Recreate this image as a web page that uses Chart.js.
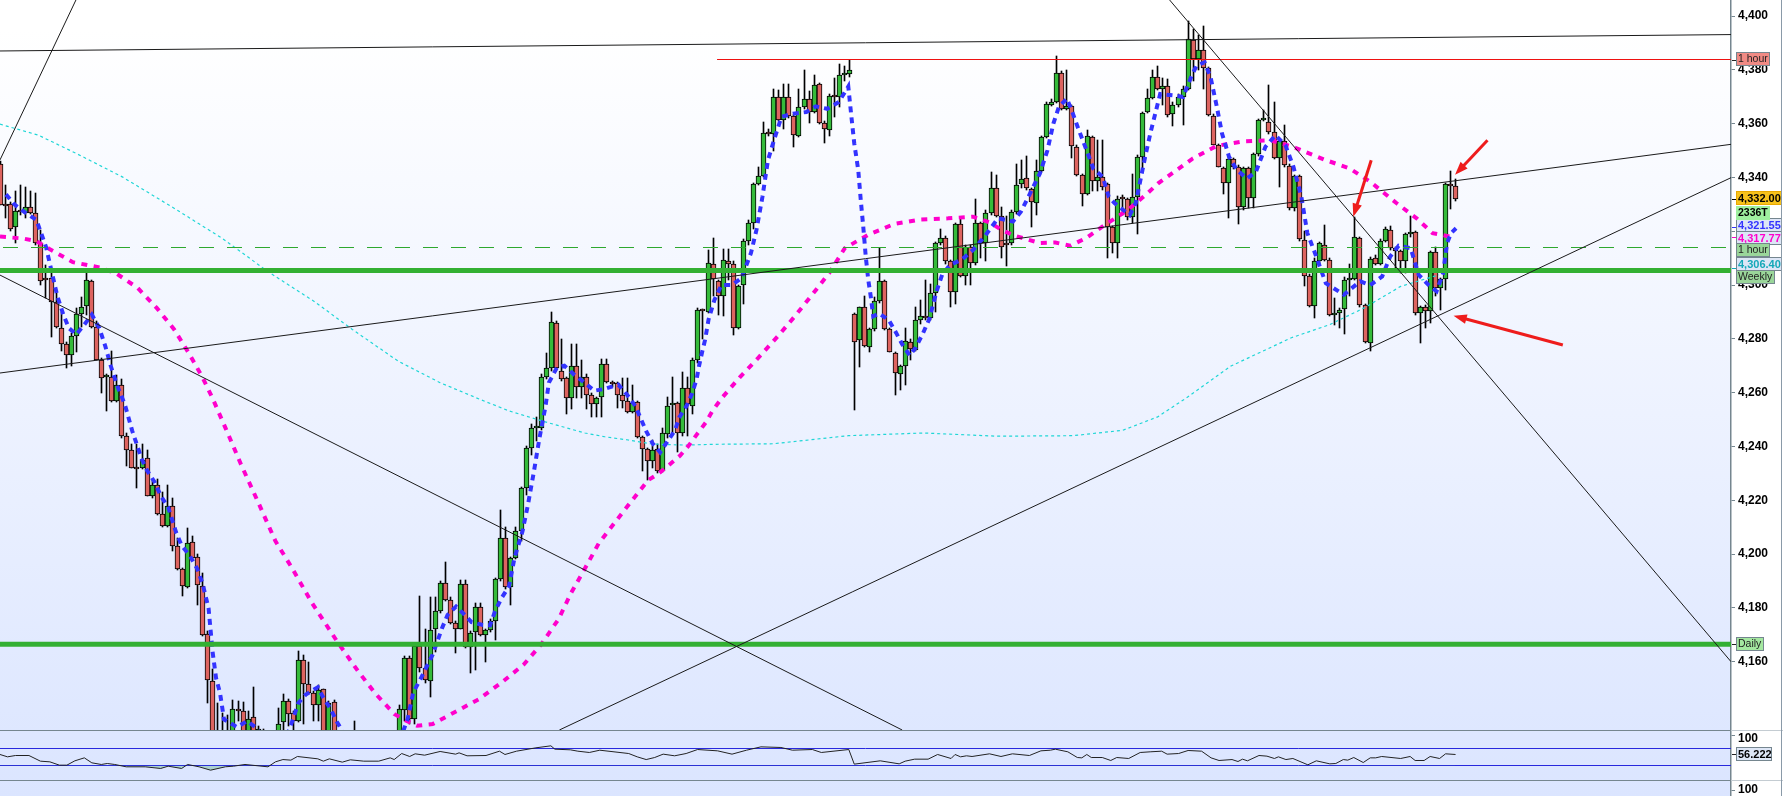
<!DOCTYPE html>
<html>
<head>
<meta charset="utf-8">
<title>ES 1 hour</title>
<style>
  html, body { margin: 0; padding: 0; background: #fff; overflow: hidden; }
  #page { position: relative; width: 1783px; height: 796px; }
  #plotBg { position: absolute; left: 0; top: 0; width: 1731px; height: 796px;
            background: linear-gradient(#ffffff 0px, #ffffff 30px, #dbe5ff 796px); }
  canvas { position: absolute; left: 0; }
  .sep { position: absolute; height: 1px; }
  #rightEdge { position: absolute; left: 1781px; top: 0; width: 1px; height: 796px; background: #8a9aa8; }
</style>
</head>
<body>
<div id="page">
  <div id="plotBg"></div>
  <canvas id="priceChart" width="1783" height="730" style="top:0"></canvas>
  <canvas id="rsiChart" width="1783" height="50" style="top:730px"></canvas>
  <canvas id="lowerChart" width="1783" height="16" style="top:780px"></canvas>
  <div class="sep" style="left:0;top:730px;width:1731px;background:#75868f"></div>
  <div class="sep" style="left:0;top:780px;width:1731px;background:#75868f"></div>
  <div class="sep" style="left:1731px;top:730px;width:52px;background:#c4ccd2"></div>
  <div class="sep" style="left:1731px;top:780px;width:52px;background:#c4ccd2"></div>
  <div id="rightEdge"></div>
</div>

<script src="https://cdn.jsdelivr.net/npm/chart.js"></script>
<script>
  // candles
  const opens = [
    4345,4329.6,4330,4321.5,4327.7,4326.7,4329,4326.7,4315.5,4302,
    4302.6,4293.7,4284,4278,4274,4281,4289.3,4292.3,4301.4,4284.3,
    4272.3,4265.9,4266,4257,4263,4244,4238.5,4232,4232,4235.6,
    4221.5,4225.5,4215,4210.3,4218,4203,4194.5,4187.8,4204.5,4198.8,
    4188,4170.4,4152.7,4130,4125,4128,4132,4142.5,4141.5,4130,
    4139.3,4128,4133,4130,4127,4130,4137.5,4145.5,4141,4138,
    4160.5,4151.7,4148.5,4144,4149.8,4130,4145,4128,4122,4118,
    4121,4125,4120,4116,4119,4114,4118,4122,4119,4124,
    4142,4161.2,4138.7,4166,4157.5,4152.7,4172,4179,4189.2,4183,
    4174.4,4172.2,4188.8,4165.3,4171,4180.3,4170,4171.6,4175,4190.6,
    4205.8,4187.6,4198.7,4208.4,4224.7,4239.5,4247,4247,4266,4269,
    4286,4268,4265.5,4258,4270,4262,4265.9,4259,4255.6,4258.3,
    4270.6,4263.9,4263.5,4259.1,4257,4252.9,4256.4,4243.4,4239,4234.7,
    4239,4231,4244.5,4255.4,4256,4245,4261.6,4255.2,4272,4290.6,
    4290,4308,4301.4,4296,4309,4308,4284,4300,4316.2,4323.2,
    4337.4,4340.6,4356.5,4356,4370,4361.5,4370,4363,4355.3,4366,
    4369.3,4364.3,4374.8,4360.4,4357.8,4370.2,4370,4378,4378.3,4289.3,
    4279.4,4292,4277,4283.5,4294,4301.4,4283.7,4274.8,4267,4269.9,
    4279,4276,4287,4288.6,4287.8,4297,4315.6,4317.3,4308.8,4297.3,
    4322.6,4303.5,4314.3,4308.1,4323,4315.6,4326.7,4336,4325.7,4315,
    4315.6,4327,4337.4,4339.9,4335.6,4330.4,4342.5,4355,4367,4368,
    4378.9,4365.5,4366.4,4351.4,4340.9,4334,4355,4338.6,4340,4337.5,
    4321.5,4315.6,4332,4331.9,4325.4,4332.8,4347.7,4364.3,4369.6,4377.3,
    4373,4373.8,4363.5,4366.8,4369.9,4373,4391,4384,4387.4,4380.7,
    4363,4352.2,4343.6,4337.8,4346.8,4344,4329,4343.6,4332.5,4348.6,
    4361.2,4360.6,4356.7,4347.4,4353.6,4344.3,4328.5,4340.6,4316.8,4303.4,
    4292.3,4309.1,4314.7,4309.4,4289,4289.6,4291,4302,4302.2,4317.4,
    4292.5,4278.5,4310,4308,4316.5,4320.5,4313.7,4312.8,4309,4319,
    4319.6,4289.6,4292,4290.2,4312.2,4298.9,4302.2,4337.5,4336.8
  ];
  const closes = [
    4329.6,4329.4,4321,4327.7,4327,4329,4326.7,4315.5,4301.4,4301.7,
    4293.7,4284.3,4278,4274,4281,4289.3,4292,4302,4284.3,4272.3,
    4265.6,4266.2,4257,4263,4244,4238.5,4232,4231.7,4235,4221.5,
    4225.5,4214.8,4210.3,4218,4203,4194.5,4188,4204,4198.6,4188.6,
    4170,4153.3,4130,4125,4128,4132,4142.5,4141.5,4130,4138.8,
    4128,4135,4130,4127,4130,4137,4145.5,4140.5,4138,4160.5,
    4151.7,4148.5,4144,4149.5,4130,4144.8,4128,4122,4118,4121,
    4125,4120,4116,4119,4114,4118,4122,4119,4124,4142.5,
    4161.2,4138.7,4166,4157.5,4153,4171.6,4179,4189.2,4183,4174.4,
    4172.2,4188.8,4165.3,4170.8,4180.3,4170,4171.6,4175,4190.6,4206.1,
    4187.6,4198.7,4208.7,4224.7,4239.5,4247,4247.2,4266,4269,4286.3,
    4269,4265,4258,4270,4262,4266,4259,4255.6,4258,4270.6,
    4264,4263.2,4259.1,4257,4252.9,4256,4243.4,4239,4234.7,4238.8,
    4231,4245,4255.1,4256,4245,4261.6,4255.8,4272,4290.6,4290.4,
    4308.1,4302.2,4296,4309.2,4308,4284,4299.5,4316.2,4323.2,4337.4,
    4340.6,4356.5,4356,4370,4361.5,4370,4363,4355.7,4366,4369.3,
    4364.3,4374.4,4360.4,4358,4370.2,4370,4378,4378.2,4380,4279,
    4291.7,4277.3,4283.5,4294,4301.4,4283.7,4275.2,4267.4,4269.9,4279.1,
    4276.3,4286.9,4288.4,4287.8,4297,4315.6,4317.3,4308.8,4297.3,4322.6,
    4303.5,4314.3,4308.1,4323,4315.6,4326.7,4336.2,4325.7,4314.3,4314.8,
    4327,4337.2,4339.3,4336,4330.7,4342.5,4355,4367.4,4368,4378.9,
    4365.5,4366.4,4351.6,4341,4334,4355.3,4338.6,4340,4336.3,4321.7,
    4315.6,4332,4331.9,4325.4,4332.8,4347.7,4364,4369.6,4377.3,4373,
    4373.8,4363.2,4367,4369.9,4373,4391.5,4384,4387.4,4380.7,4363.3,
    4352.2,4344,4337.8,4346.8,4344,4329,4343.6,4332.5,4348.6,4361.5,
    4361.6,4356.7,4347.4,4353.6,4344.6,4328.5,4340.6,4317,4303.4,4292.3,
    4309.1,4315.6,4309.4,4289,4289.3,4290.9,4302,4302.2,4317.8,4292.5,
    4278.9,4309.6,4307.9,4316.5,4320.7,4313.7,4312.8,4309,4318.9,4319.3,
    4289.6,4291.9,4290.5,4312.2,4298.9,4302.2,4337.5,4336.8,4332
  ];
  const highs = [
    4346,4337,4331,4335,4337,4336.5,4335,4334.3,4320.5,4307.5,
    4305,4297.7,4290,4279,4282,4291.5,4295.4,4305,4302,4286.5,
    4272.8,4267,4275.5,4266.5,4265,4245,4241,4241,4241,4238.5,
    4228,4228,4223,4225.5,4220.8,4206,4195,4209.6,4206.6,4200,
    4193,4171.4,4157.3,4144.7,4141,4140,4145.8,4145.5,4145,4141.5,
    4150.5,4136,4135,4133,4133,4142.7,4147.8,4146,4141.5,4164,
    4162.5,4160,4149,4151.5,4150,4145.5,4145.6,4130,4125,4125,
    4138,4128,4123,4122,4121,4120,4124,4125,4127,4144,
    4162,4162,4167,4184.3,4172,4184,4184,4190,4196.9,4184,
    4175,4190.3,4190.3,4171.5,4181.8,4181.8,4172,4176,4191,4216.3,
    4210,4199,4210,4225,4240,4248.5,4251,4267,4274.7,4290,
    4286.5,4280,4266,4278,4278,4272,4267,4260,4258.5,4272.5,
    4272.5,4264.5,4264,4265.4,4265.4,4263,4257,4244,4239.5,4242.4,
    4241,4247,4258.5,4265.7,4256.5,4267.5,4265.7,4273,4291.5,4291,
    4313,4317.4,4302,4313.5,4313.5,4309,4300,4317,4324,4338,
    4344,4360.6,4358,4373,4372.5,4374.6,4374.6,4363.5,4373,4380,
    4372,4378,4375,4361,4371,4377,4382,4381.6,4383.5,4289.5,
    4292,4296,4284,4295.5,4313.7,4302,4284,4275,4270.4,4284,
    4280,4292,4294.6,4302,4300.5,4316,4320.7,4318.2,4309.3,4323,
    4324.7,4315,4315,4331.9,4323.5,4328,4341.9,4341,4329,4325.5,
    4328,4345,4346.5,4348,4336,4346.4,4355.5,4368,4369,4385,
    4379.5,4380,4367,4352,4341.4,4357.5,4355.5,4354,4354,4338,
    4322,4333,4333.5,4332.5,4341.2,4348.3,4364.5,4373,4380,4381.6,
    4377,4376.7,4368,4371,4374,4398,4395,4393,4396.4,4381,
    4363.5,4352.5,4344,4347.5,4347.2,4344.5,4344,4344,4349,4361.8,
    4365,4374.2,4368,4354,4359.5,4345,4341,4341,4320,4304,
    4310,4316,4322.4,4310,4295,4291.3,4303,4308,4325.4,4318,
    4293,4310.3,4311,4317,4321.5,4322,4314,4313.2,4319.3,4325.7,
    4320,4292.3,4292.5,4312.6,4314,4302.6,4338,4342.3,4339.4
  ];
  const lows = [
    4329.6,4325,4320,4315.5,4326,4325,4326.5,4315,4300,4295,
    4280.6,4284,4275.4,4269.3,4270,4275,4284.3,4288.8,4284,4272,
    4260,4253,4256.5,4256.5,4243,4232.6,4232,4224.4,4231.5,4221.5,
    4221,4214.5,4210,4210,4201,4194,4184.3,4187.5,4198.4,4181,
    4169.5,4144.7,4128,4120,4120,4126,4130,4138,4126,4128,
    4125,4125,4126,4122,4124,4128,4134,4136,4134.5,4137.5,
    4137,4148,4138,4138,4128,4128,4125,4118,4115,4114,
    4118,4116,4112,4112,4110,4110,4115,4116,4116,4122,
    4138,4137,4137,4156,4152,4147,4163.5,4178,4182.5,4174,
    4163.3,4172,4165,4155.8,4157,4169.5,4160,4171,4168,4190,
    4187,4181,4198,4205,4222,4237,4242,4246,4265,4268,
    4268.5,4264.5,4252,4254,4258,4258,4254,4251,4251,4251,
    4263.5,4262,4254.3,4254.3,4252.5,4252.5,4243,4231,4227.5,4232,
    4230,4230.5,4243,4244.5,4238,4244,4244,4252,4271,4280,
    4289.5,4296,4289,4288.4,4302,4281.6,4283.5,4293,4315,4321,
    4337,4340,4355.5,4350,4361,4358,4362,4351.4,4355,4365.5,
    4360.3,4364,4360,4352.8,4355.3,4362.6,4366,4376,4377.5,4253.5,
    4269.5,4277,4275,4283,4293.5,4283.2,4275,4259,4261,4263,
    4272,4275.5,4285.5,4287,4287,4290,4315,4308,4292,4293,
    4303,4300,4300,4307.6,4310,4309,4326,4325.2,4310,4307,
    4315,4326.5,4336,4335.5,4321.4,4326,4342,4354.5,4366.5,4367.5,
    4365,4365,4347.4,4340.5,4329.5,4333.5,4335,4335,4335.5,4310,
    4312,4310,4326,4324,4323,4319,4343,4364,4369,4372.5,
    4367,4362.3,4359,4366,4359.6,4372.5,4376,4380,4373,4363,
    4352,4344,4334,4324.8,4343,4322.6,4328,4328.5,4328.5,4348,
    4361,4356,4346.8,4336.5,4344,4328,4327.5,4316.5,4299.5,4292,
    4287.8,4308,4309,4288.5,4285,4284,4281.9,4296,4301.7,4292,
    4278.4,4275.4,4307.4,4307.5,4316,4313.2,4306,4304.5,4304.5,4318,
    4289,4278.5,4284,4286,4296,4290.9,4298,4328.3,4331.2
  ];

  // moving averages: position on the time axis, then price
  const fastX = [1.2,3,5,7.3,9.2,10.5,11.5,12.7,13.8,15.3,16.9,18.4,19.9,21.1,22.2,23.4,25,26.5,28.4,29.5,31,32.2,33.7,35.3,36.4,38,39.5,40.6,41.8,42.6,43.3,44.1,44.9,47.5,49.5,51.4,54,57,58.7,59.8,61.3,63.7,64.8,66.3,67.5,69,72,76,79,81.7,82.8,84.4,86.7,88.6,89.7,91.4,92.8,94.5,96.6,98.2,99.2,100.5,102,103.1,104.7,105.8,107,108.1,109.3,110,111.6,113.1,115,117.2,119.1,121.2,123.9,125.6,127.3,128.4,129.5,130.8,132.3,133.7,135.3,136.1,137.6,138.7,139.6,140.1,140.7,141.3,142,143.2,144.6,146.7,148.6,150.5,151.6,152.8,153.9,155.1,156.6,158.9,161.6,163.5,165.8,168.1,170,170.6,171.2,172,172.5,173,173.5,174,174.5,175,176.2,178.1,179.6,180.8,182.3,183.5,185,186.2,186.9,187.7,188.8,190.4,192.7,195,197.3,200,203,204.6,206.1,208.4,209.9,211.1,212.2,213.8,214.9,216.1,218,219.1,221,222.2,223.4,226.4,227.6,229.5,230.6,232.5,235.2,237.1,238.7,239.8,241.4,242.6,243.8,244.9,246.3,247.9,249.9,251.7,253.6,255.6,257.6,259.2,260.8,262,263.3,265.7,269.3,272.6,274.6,277,278.6,280.3,282.7,284.3,286.3,287.9,289.2,290,290.8,291.8];
  const fastY = [4333.7,4329.8,4327,4324.2,4314.3,4303.8,4295.8,4289,4284,4281.6,4285.3,4289,4284,4277.3,4269.9,4263,4255.7,4245.8,4235.3,4231,4226.7,4221.7,4217.4,4208,4203.2,4199.5,4194.6,4189,4179.8,4163.7,4153.9,4148.3,4138.5,4135.7,4137.9,4135.4,4128,4130,4138.5,4144.7,4147.8,4150.5,4146.6,4142.3,4137.7,4133,4122,4118,4125,4138.7,4148.5,4154,4162.6,4172.5,4177.4,4180.5,4178,4174.7,4173.7,4173.5,4178.7,4183.6,4188,4198.5,4208.4,4218.3,4230.7,4243,4254.7,4263.7,4269.3,4270,4266.8,4263.6,4260.7,4261.4,4263,4259.4,4255.1,4250.4,4245.7,4241.1,4237.8,4241.7,4246.1,4250.7,4255.1,4259.7,4265,4270,4275,4279.6,4287.2,4294.6,4300,4300,4302.6,4311.9,4320.5,4332.8,4346.4,4353.8,4362.5,4363.7,4364.3,4366.4,4365.5,4368,4373.8,4363,4352.6,4342.7,4331.6,4321.7,4310.6,4302,4295.8,4288.4,4289.4,4287,4282.2,4278,4273.8,4276.7,4282.2,4287.2,4292,4297.7,4303.8,4307.5,4309.4,4313,4318,4324.8,4323.6,4327.3,4332.8,4341.5,4350,4360,4366.2,4369.3,4364.3,4358.1,4348.9,4343.3,4340.2,4332.8,4330.4,4326,4330.4,4347.7,4356.9,4371,4370.5,4369.9,4377.3,4381.6,4382.8,4377.3,4366.8,4356.3,4347.7,4342.7,4339.6,4342.1,4351.4,4355.7,4352,4344,4332.8,4319.3,4313,4300.7,4296.4,4301.4,4300,4303.2,4310.6,4314.6,4313.7,4303.8,4300,4297.7,4304.4,4315.6,4319.3,4321.1];

  const midX = [0,4.6,7.3,10,14.6,20,23.4,27.6,31.4,34.9,38,40.6,42,42.6,45.2,48.3,51.8,55.2,58.3,62.5,67.5,71.7,75.2,79,81.3,83.6,86.7,91.3,95.9,100.5,105,108.5,112,114.3,117.3,120,125,129.9,131.9,134,136.3,138.1,139.7,141.4,142.8,144.7,148.2,152,155.9,159.3,162.8,166.2,169.3,173.9,179.2,184.6,190,195,198.4,200.7,203.4,208.4,211.5,214.5,217.6,221.4,226,229.9,232.1,239,243.8,249.1,254.8,259.6,265.3,270.5,274.6,279.9,283.9,287.1,291.2];
  const midY = [4318,4317.3,4316.3,4313.3,4308.5,4306.5,4304.2,4298.9,4291.5,4283.5,4274.2,4265.6,4260.2,4257.9,4246.8,4233.3,4219,4204.8,4195.5,4181.9,4167.7,4156.6,4148.2,4140.6,4138.1,4136.2,4136.8,4141.4,4146,4152.2,4159,4166.5,4176,4185,4194.9,4204,4216,4227.5,4229.8,4233,4236.6,4240.5,4244.6,4248.8,4253.3,4258.1,4265.6,4273,4281,4288.4,4296.5,4304.5,4313.7,4318.6,4322.7,4324.4,4324.8,4325.4,4323.2,4320.5,4318.3,4315.6,4315.8,4314.6,4317.4,4322.3,4327.9,4334,4337.8,4347,4351.7,4353.4,4353.8,4351,4346.7,4343.3,4338.4,4330.4,4324.8,4319.3,4317.8];

  const slowX = [0,7.7,15.3,24.5,34.5,44.5,53.7,62.9,70.6,79.8,88.2,96.2,102,109.7,117.2,121.2,125.9,130.7,137.3,143.3,155,170,185,200,215,225,232,237.8,246.7,258.8,266.5,273.4,280.7,288.4];
  const slowY = [4359.8,4355.7,4348.9,4340.2,4329,4317.4,4305,4294,4283.5,4271.7,4263.7,4257.5,4253.2,4248.9,4245,4243.6,4242.4,4240.9,4240.5,4240.8,4241,4244,4245,4243.8,4244,4246,4251,4258.1,4269.9,4280.4,4285.3,4291.5,4299.5,4303.8];

  // drawn trend lines and levels
  const trendStartX = [0,0,0,112.1,0,234.4];
  const trendStartY = [4346.5,4387,4267.3,4134.6,4303.7,4405.95];
  const trendEndX = [15.23,346.9,346.9,346.9,180.8,346.9];
  const trendEndY = [4406,4393.1,4352.3,4339.9,4134.6,4160];

  const weeklyLevel = 4305.4;
  const dailyLevel = 4166.5;
  const hourSupport = 4313.95;
  const hourResistance = 4383.83;

  // arrows: tail x, tail price, tip x, tip price
  const arrowTailX = [274.8,298.1,313.2];
  const arrowTailY = [4346.4,4353.8,4277.7];
  const arrowTipX = [271.2,291.6,291.3];
  const arrowTipY = [4325.4,4341,4288.6];

  // right hand price boxes
  const boxTexts = ['1 hour','4,321.55','4,317.77','4,332.00','2336T','1 hour','4,306.40','Weekly','Daily'];
  const boxPrices = [4384,4322.3,4317.5,4332.3,4326.7,4313,4307.8,4303,4166.5];
  const boxTicks = [4383.8,4321.55,4317.77,4332,null,null,4306.4,null,4166.5];
  const boxFills = ['#f08a84','#dde6f6','#dde6f6','#f7c21c','#9ff09f','#9ad69a','#dde6f6','#9ad69a','#a4e8a0'];
  const boxInks = ['#222','#3333ff','#ff00cc','#000','#000','#222','#14a8b8','#222','#222'];
  const boxEdges = ['#75868f','#75868f','#75868f','#e8a800','#9ff09f','#75868f','#75868f','#75868f','#75868f'];

  const rsiX = [0,1.5,3.1,5.8,8.1,10,11.9,13.4,15,16.9,18.4,20.3,21.5,23,25.3,29.1,32.2,33.7,36.4,37.6,39.9,42.2,45.2,46.8,49.1,53.7,55.2,56.7,58.3,59.6,63.7,64.8,66,68.6,70.2,72.9,75.9,78.2,79,80.5,82.1,83.2,85.1,88.2,91.3,92,93.6,97.4,100.1,101.2,103.5,107.4,110.4,111.2,114.3,115.8,118.1,120.2,126,127.7,129.5,131.2,132.9,135.2,137.5,139.8,143.8,146.7,149.6,152.5,156.5,158.8,162.8,164.6,170.1,171.2,176.4,180.2,181.4,183.3,186,187.9,190.6,191.4,192.5,193.7,194.8,198.3,200.6,202.9,206.3,208.6,210.5,211.5,214,215.9,216.8,217.8,218.7,220.9,222.6,223.8,226.2,228.5,230.5,232.8,233.9,236.2,238.1,240.8,242.7,244.3,246.9,248.1,249,250,252.3,253.9,255.4,256.2,257.7,259.1,262.1,263.8,266.5,267.7,269.2,270.1,271.3,273.2,274.6,275.7,276.9,280.7,282.6,283.6,285.4,286.6,288.5,289.7,291.7];
  const rsiY = [55.9,50.4,53.5,53.5,40.2,38.6,30.8,30.8,41,48,36.3,32.4,34.7,32.4,26.9,26.9,23,28.4,23,32.4,26.9,19,27,28.4,32.4,26.9,38.6,44,42.6,51.2,45.7,40.2,45.7,37.9,43.4,40.2,40.2,48,44,58.2,51.2,57.5,54.3,63,56.7,59.8,52.8,53.5,63.7,55.9,63.7,71.6,76.3,68.4,66.9,63.7,60.6,66,58.2,50.4,44,48.8,56.7,52.8,58.2,67.6,64.5,56.7,66,73.9,72.4,66,67.6,60.6,67.6,33.2,41,33.9,40.2,44.9,44.9,55.9,46.5,55.9,50.4,52.8,51.2,57.5,51.2,57.5,53.5,64.5,66,68.4,62.2,48.8,48,55.9,48.8,48.8,41.8,48.8,46.5,60.6,62.2,63.7,56.7,58.2,65.3,63.7,48,41.8,44,39.4,44.9,41,53.5,52,46.5,50.4,44,46.5,31.6,41,33.9,34.7,44,42.6,48.8,37,48,48,51.2,46.5,51.2,41.8,41.8,51.2,46.5,57.5,55.9];
  const rsiBandHigh = 70;
  const rsiBandLow = 30;
  const rsiLast = '56.222';

  const xMax = 346.9;        // one x unit is 4.99 px on the page
  const candleStep = 1.0128; // candles sit a little wider than one unit
  const upColor = '#35bb3a';
  const downColor = '#dd6460';
  const axisColor = '#75868f';
  const axisFont = { family: "'Liberation Sans', Arial, sans-serif", size: 12, weight: 'bold' };
  const boxFontFamily = "'Liberation Sans', Arial, sans-serif";

  const points = (xs, ys) => xs.map((x, i) => ({ x: x, y: ys[i] }));
  const hline = (y, from) => [{ x: from || 0, y: y }, { x: xMax, y: y }];

  function lineSet(data, color, width, dash, order) {
    return { type: 'line', data: data, borderColor: color, borderWidth: width, borderDash: dash || [],
             pointRadius: 0, tension: 0, fill: false, order: order };
  }

  // snap candles to whole pixels so bodies and wicks stay crisp
  const snapBars = {
    id: 'snapBars',
    beforeDatasetsDraw(chart) {
      chart.data.datasets.forEach((ds, n) => {
        if (ds.type !== 'bar') return;
        chart.getDatasetMeta(n).data.forEach(el => {
          el.x = Math.round(el.x) + 0.5;
          el.y = Math.round(el.y);
          el.base = Math.round(el.base);
        });
      });
    }
  };

  const arrows = {
    id: 'arrows',
    afterDatasetsDraw(chart) {
      const { ctx, scales } = chart;
      ctx.save();
      ctx.strokeStyle = ctx.fillStyle = '#ee1c1c';
      ctx.lineWidth = 3;
      arrowTailX.forEach((tx, i) => {
        const x0 = scales.x.getPixelForValue(tx), y0 = scales.y.getPixelForValue(arrowTailY[i]);
        const x1 = scales.x.getPixelForValue(arrowTipX[i]), y1 = scales.y.getPixelForValue(arrowTipY[i]);
        const a = Math.atan2(y1 - y0, x1 - x0);
        const bx = x1 - 11 * Math.cos(a), by = y1 - 11 * Math.sin(a);
        ctx.beginPath(); ctx.moveTo(x0, y0); ctx.lineTo(bx, by); ctx.stroke();
        ctx.beginPath(); ctx.moveTo(x1, y1);
        ctx.lineTo(x1 - 14 * Math.cos(a - 0.35), y1 - 14 * Math.sin(a - 0.35));
        ctx.lineTo(x1 - 14 * Math.cos(a + 0.35), y1 - 14 * Math.sin(a + 0.35));
        ctx.closePath(); ctx.fill();
      });
      ctx.restore();
    }
  };

  function drawBox(ctx, x, y, text, fill, ink, edge, font, wide) {
    ctx.font = font;
    const w = wide || Math.ceil(ctx.measureText(text).width) + 4;
    ctx.fillStyle = fill;
    ctx.fillRect(x, y - 7, w, 14);
    ctx.strokeStyle = edge;
    ctx.lineWidth = 1;
    ctx.strokeRect(x + 0.5, y - 6.5, w - 1, 13);
    ctx.fillStyle = ink;
    ctx.textBaseline = 'middle';
    ctx.textAlign = 'left';
    ctx.fillText(text, x + 2, y + 0.5);
  }

  const priceBoxes = {
    id: 'priceBoxes',
    afterDraw(chart) {
      const { ctx, scales } = chart;
      ctx.save();
      boxTexts.forEach((t, i) => {
        const y = Math.round(scales.y.getPixelForValue(boxPrices[i]));
        const numeric = /^4,/.test(t);
        if (boxTicks[i] !== null) {
          const tickY = Math.round(scales.y.getPixelForValue(boxTicks[i]));
          ctx.strokeStyle = boxInks[i];
          ctx.lineWidth = 1;
          ctx.beginPath(); ctx.moveTo(1732, tickY + 0.5); ctx.lineTo(1736, tickY + 0.5); ctx.stroke();
        }
        const font = numeric ? 'bold 11px ' : (t === '2336T' ? 'bold 10.5px ' : '10.5px ');
        drawBox(ctx, 1736, y, t, boxFills[i], boxInks[i], boxEdges[i], font + boxFontFamily, numeric ? 46 : 0);
      });
      ctx.restore();
    }
  };

  const rsiBox = {
    id: 'rsiBox',
    afterDraw(chart) {
      const y = Math.round(chart.scales.y.getPixelForValue(Number(rsiLast)));
      chart.ctx.save();
      chart.ctx.strokeStyle = '#222';
      chart.ctx.beginPath(); chart.ctx.moveTo(1732, y + 0.5); chart.ctx.lineTo(1736, y + 0.5); chart.ctx.stroke();
      drawBox(chart.ctx, 1736, y, rsiLast, '#dde6f6', '#000', axisColor, 'bold 11px ' + boxFontFamily, 36);
      chart.ctx.restore();
    }
  };

  function rightAxis(min, max, extra) {
    return Object.assign({
      position: 'right', min: min, max: max,
      afterFit(axis) { axis.width = 52; axis.paddingTop = 0; axis.paddingBottom = 0; },
      border: { display: true, color: axisColor, width: 1.5 },
      grid: { display: true, drawOnChartArea: false, drawTicks: true, tickLength: 4, tickColor: axisColor },
      ticks: { color: '#000', font: axisFont, padding: 3, autoSkip: false, includeBounds: false,
               callback: v => v.toLocaleString('en-US') }
    }, extra || {});
  }

  const xAxis = { type: 'linear', min: 0, max: xMax, display: false, offset: false };
  const baseOptions = {
    responsive: false, animation: false, devicePixelRatio: 1,
    layout: { padding: 0, autoPadding: false },
    plugins: { legend: { display: false }, tooltip: { enabled: false } },
    events: []
  };

  const wicks = highs.map((h, i) => ({ x: i * candleStep, y: [lows[i], h] }));
  const bodies = opens.map((o, i) => ({ x: i * candleStep, y: [o, closes[i]] }));
  const bodyColors = opens.map((o, i) => closes[i] >= o ? upColor : downColor);

  const priceDatasets = [
    { type: 'bar', data: wicks, backgroundColor: '#000', barThickness: 1, grouped: false, order: 20 },
    { type: 'bar', data: bodies, backgroundColor: bodyColors, borderColor: '#000', borderWidth: 1,
      borderSkipped: false, barThickness: 5, minBarLength: 2, grouped: false, order: 19 },
    lineSet(points(slowX, slowY), '#1fd6d6', 1.2, [3, 3], 10),
    lineSet(points(midX, midY), '#ff00cc', 4, [6, 6.5], 9),
    lineSet(points(fastX, fastY), '#3333ff', 4, [6, 5], 8),
    lineSet(hline(hourSupport, 0.6), '#2ea82e', 1, [15, 13], 7),
    lineSet(hline(hourResistance, 143.7), '#ee1111', 1, [], 6),
    lineSet(hline(weeklyLevel), '#33b033', 5, [], 5),
    lineSet(hline(dailyLevel), '#33b033', 5, [], 5)
  ];
  trendStartX.forEach((x, i) => {
    priceDatasets.push(lineSet([{ x: x, y: trendStartY[i] }, { x: trendEndX[i], y: trendEndY[i] }], '#1a1a1a', 1, [], 4));
  });

  new Chart(document.getElementById('priceChart').getContext('2d'), {
    type: 'bar',
    data: { datasets: priceDatasets },
    options: Object.assign({}, baseOptions, {
      scales: { x: xAxis, y: rightAxis(4134.6, 4405.95, {
        ticks: { color: '#000', font: axisFont, padding: 3, autoSkip: false, includeBounds: false, stepSize: 20,
                 callback: v => v.toLocaleString('en-US') },
        afterBuildTicks(axis) { axis.ticks = axis.ticks.filter(t => t.value >= 4160); }
      }) }
    }),
    plugins: [snapBars, arrows, priceBoxes]
  });

  const onlyHundred = { afterBuildTicks(axis) { axis.ticks = [{ value: 100 }]; } };

  new Chart(document.getElementById('rsiChart').getContext('2d'), {
    type: 'line',
    data: { datasets: [
      lineSet(hline(rsiBandHigh), '#2828dd', 1, [], 3),
      lineSet(hline(rsiBandLow), '#2828dd', 1, [], 3),
      Object.assign(lineSet(points(rsiX, rsiY), '#222', 1, [], 1), {
        fill: { target: { value: rsiBandLow }, above: 'rgba(0,0,0,0)', below: 'rgba(80,170,120,0.35)' }
      })
    ] },
    options: Object.assign({}, baseOptions, {
      scales: { x: xAxis, y: rightAxis(-4.11, 113.53, Object.assign({}, onlyHundred, {
        ticks: { color: '#000', font: axisFont, padding: 3, labelOffset: 3, autoSkip: false, includeBounds: false }
      })) }
    }),
    plugins: [rsiBox]
  });

  new Chart(document.getElementById('lowerChart').getContext('2d'), {
    type: 'line',
    data: { datasets: [] },
    options: Object.assign({}, baseOptions, {
      scales: { x: xAxis, y: rightAxis(94, 110, onlyHundred) }
    })
  });
</script>
</body>
</html>
